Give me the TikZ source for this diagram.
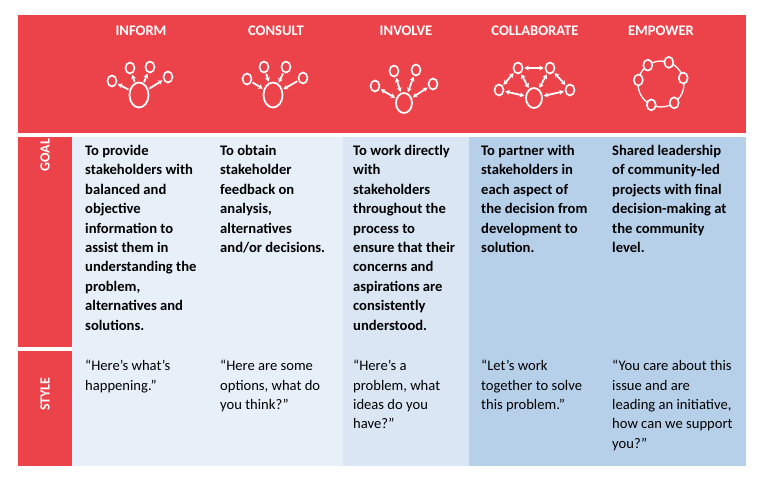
\documentclass[tikz,border=0pt]{standalone}
\usepackage{fontspec}
\setmainfont{Carlito}
\usetikzlibrary{arrows.meta,shapes.geometric,calc}
\definecolor{hdrred}{HTML}{EC434B}
\definecolor{palecol}{HTML}{E7EFF8}
\definecolor{midcol}{HTML}{DAE6F3}
\definecolor{bluecol}{HTML}{B7D0EA}
\tikzset{
  cell/.style={anchor=north west, align=left, inner sep=0pt,
    font=\fontsize{14.6}{19.4}\selectfont},
  head/.style={text=white, font=\fontsize{14.6}{16}\selectfont\bfseries},
  side/.style={text=white, rotate=90, font=\fontsize{14}{16}\selectfont\bfseries},
  big/.style={draw=white, line width=1.8pt, ellipse, minimum width=19pt, minimum height=25pt, inner sep=0pt},
  dot/.style={draw=white, line width=1.6pt, ellipse, minimum width=9pt, minimum height=11pt, inner sep=0pt},
  ic/.style={white, line width=1.8pt, -{Stealth[length=4.5pt,width=5pt]}, shorten >=1pt, shorten <=1pt},
  icb/.style={ic, {Stealth[length=4.5pt,width=5pt]}-{Stealth[length=4.5pt,width=5pt]}}
}
\begin{document}
\begin{tikzpicture}[x=1pt, y=-1pt]
  \useasboundingbox (0,0) rectangle (766,478);
  % bands
  \fill[hdrred] (18,15) rectangle (746,133);
  \fill[hdrred] (18,137) rectangle (72,466);
  \fill[palecol] (72,137) rectangle (343,466);
  \fill[midcol] (343,137) rectangle (469,466);
  \fill[bluecol] (469,137) rectangle (746,466);
  \fill[white] (18,347) rectangle (72,351);
  % headings
  \node[head] (hinf) at (141,31) {INFORM};
  \node[head] (hcon) at (276,31) {CONSULT};
  \node[head] (hinv) at (406,31) {INVOLVE};
  \node[head] (hcol) at (535,31) {COLLABORATE};
  \node[head] (hemp) at (661,31) {EMPOWER};
  \node[side] (goal) at (45,155) {GOAL};
  \node[side] (style) at (45,394) {STYLE};
  % inform icon
  \node[big] (ib) at (139,95) {};
  \node[dot] (i1) at (112,81) {};
  \node[dot] (i2) at (130,68) {};
  \node[dot] (i3) at (150,67) {};
  \node[dot] (i4) at (168,77) {};
  \foreach \s in {i1,i2,i3,i4} \draw[ic] (ib) -- (\s);
  % consult icon
  \node[big] (cb) at (273,95) {};
  \node[dot] (c1) at (247,79) {};
  \node[dot] (c2) at (264,67) {};
  \node[dot] (c3) at (286,67) {};
  \node[dot] (c4) at (303,78) {};
  \foreach \s in {c1,c2,c3,c4} \draw[ic] (\s) -- (cb);
  % involve icon
  \node[big, minimum width=16pt, minimum height=20pt] (vb) at (404,103) {};
  \node[dot] (v1) at (375,86) {};
  \node[dot] (v2) at (394,71) {};
  \node[dot] (v3) at (416,70) {};
  \node[dot] (v4) at (433,84) {};
  \foreach \s in {v1,v2,v3,v4} \draw[icb] (\s) -- (vb);
  % collaborate icon
  \node[big, minimum width=16pt, minimum height=20pt] (lb) at (534,98) {};
  \node[dot] (l1) at (518,68) {};
  \node[dot] (l2) at (550,68) {};
  \node[dot] (l3) at (499,90) {};
  \node[dot] (l4) at (570,90) {};
  \draw[icb] (l1) -- (l2);
  \draw[icb] (l3) -- (lb);
  \draw[icb] (lb) -- (l4);
  \draw[icb] (l1) -- (l3);
  \draw[icb] (l2) -- (l4);
  \draw[icb] (l1) -- (lb);
  \draw[icb] (l2) -- (lb);
  % empower icon
  \draw[white, line width=1.3pt] (661,84) circle (23);
  \foreach \a [count=\k] in {115,55,-15,-70,-125,190}
    \node[dot, fill=hdrred] (e\k) at ($(661,84)+(\a:23)$) {};
  % goal row
  \node[cell] (g1) at (85,145) {\bfseries To provide\\\bfseries stakeholders with\\\bfseries balanced and\\\bfseries objective\\\bfseries information to\\\bfseries assist them in\\\bfseries understanding the\\\bfseries problem,\\\bfseries alternatives and\\\bfseries solutions.};
  \node[cell] (g2) at (220,145) {\bfseries To obtain\\\bfseries stakeholder\\\bfseries feedback on\\\bfseries analysis,\\\bfseries alternatives\\\bfseries and/or decisions.};
  \node[cell] (g3) at (353,145) {\bfseries To work directly\\\bfseries with\\\bfseries stakeholders\\\bfseries throughout the\\\bfseries process to\\\bfseries ensure that their\\\bfseries concerns and\\\bfseries aspirations are\\\bfseries consistently\\\bfseries understood.};
  \node[cell] (g4) at (481,145) {\bfseries To partner with\\\bfseries stakeholders in\\\bfseries each aspect of\\\bfseries the decision from\\\bfseries development to\\\bfseries solution.};
  \node[cell] (g5) at (612,145) {\bfseries Shared leadership\\\bfseries of community-led\\\bfseries projects with final\\\bfseries decision-making at\\\bfseries the community\\\bfseries level.};
  % style row
  \node[cell] (s1) at (85,360) {“Here’s what’s\\happening.”};
  \node[cell] (s2) at (220,360) {“Here are some\\options, what do\\you think?”};
  \node[cell] (s3) at (353,360) {“Here’s a\\problem, what\\ideas do you\\have?”};
  \node[cell] (s4) at (481,360) {“Let’s work\\together to solve\\this problem.”};
  \node[cell] (s5) at (612,360) {“You care about this\\issue and are\\leading an initiative,\\how can we support\\you?”};
\end{tikzpicture}
\end{document}
